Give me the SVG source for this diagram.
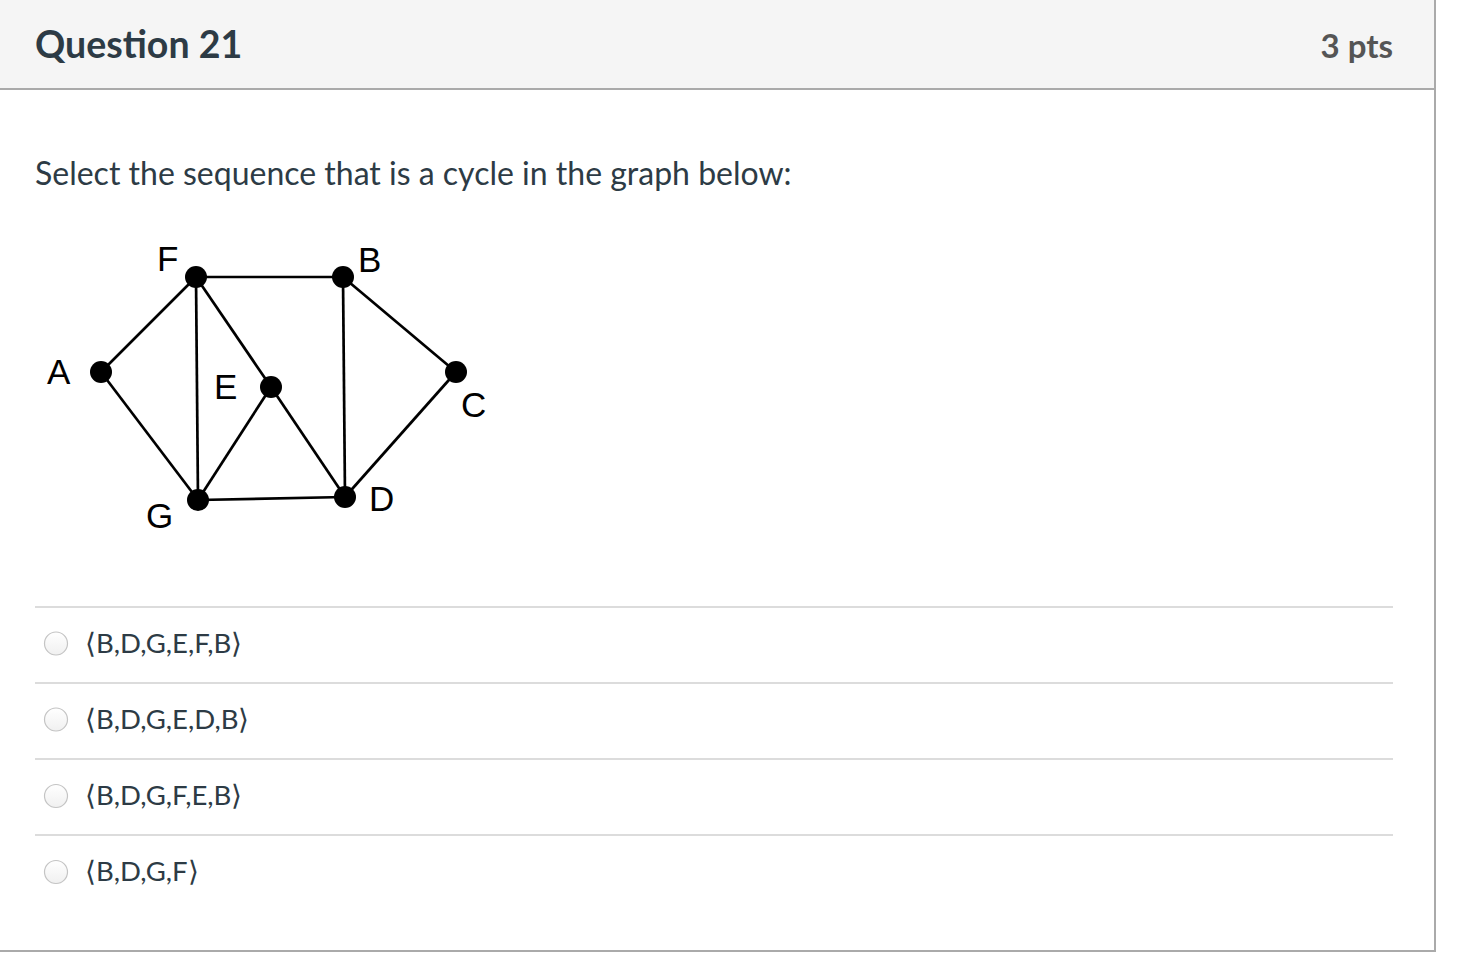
<svg xmlns="http://www.w3.org/2000/svg" width="1460" height="954" viewBox="0 0 1460 954">
<defs>
<style>
.hdr{font-family:Lato,"Liberation Sans",sans-serif;font-weight:bold;}
.body{font-family:Lato,"Liberation Sans",sans-serif;fill:#2d3b45;}
.lbl{font-family:"Liberation Sans",Arial,sans-serif;font-size:35px;fill:#000;}
.edge{stroke:#000;stroke-width:2.7;fill:none;}
.dot{fill:#000;}
.sep{stroke:#dcdcdc;stroke-width:2;}
.radio{fill:url(#rg);stroke:#c4c4c4;stroke-width:1.2;}
</style>
<linearGradient id="rg" x1="0" y1="0" x2="0" y2="1">
<stop offset="0" stop-color="#ffffff"/>
<stop offset="1" stop-color="#f0f0f0"/>
</linearGradient>
</defs>
<rect x="0" y="0" width="1460" height="954" fill="#ffffff"/>
<rect x="0" y="0" width="1435" height="89" fill="#f5f5f5"/>
<line x1="0" y1="89" x2="1435" y2="89" stroke="#aaaaaa" stroke-width="2"/>
<line x1="1435" y1="0" x2="1435" y2="951" stroke="#aaaaaa" stroke-width="2"/>
<line x1="0" y1="951" x2="1436" y2="951" stroke="#aaaaaa" stroke-width="2"/>
<text class="hdr" x="35" y="58" font-size="37.5" fill="#2d3b45">Question 21</text>
<text class="hdr" x="1393" y="58" font-size="33" fill="#555555" text-anchor="end">3 pts</text>
<text class="body" x="35" y="185" font-size="32">Select the sequence that is a cycle in the graph below:</text>
<g id="connectors">
<line class="edge" x1="196" y1="277" x2="343" y2="277"/>
<line class="edge" x1="196" y1="277" x2="101" y2="372"/>
<line class="edge" x1="196" y1="277" x2="198" y2="500"/>
<line class="edge" x1="196" y1="277" x2="271" y2="387"/>
<line class="edge" x1="101" y1="372" x2="198" y2="500"/>
<line class="edge" x1="271" y1="387" x2="198" y2="500"/>
<line class="edge" x1="271" y1="387" x2="345" y2="497"/>
<line class="edge" x1="343" y1="277" x2="345" y2="497"/>
<line class="edge" x1="343" y1="277" x2="456" y2="372"/>
<line class="edge" x1="456" y1="372" x2="345" y2="497"/>
<line class="edge" x1="198" y1="500" x2="345" y2="497"/>
</g>
<g id="node-F"><circle class="dot" cx="196" cy="277" r="11"/><text class="lbl" x="157" y="271">F</text></g>
<g id="node-B"><circle class="dot" cx="343" cy="277" r="11"/><text class="lbl" x="358" y="272">B</text></g>
<g id="node-A"><circle class="dot" cx="101" cy="372" r="11"/><text class="lbl" x="47" y="384">A</text></g>
<g id="node-E"><circle class="dot" cx="271" cy="387" r="11"/><text class="lbl" x="214" y="399">E</text></g>
<g id="node-C"><circle class="dot" cx="456" cy="372" r="11"/><text class="lbl" x="461" y="417">C</text></g>
<g id="node-G"><circle class="dot" cx="198" cy="500" r="11"/><text class="lbl" x="146" y="528">G</text></g>
<g id="node-D"><circle class="dot" cx="345" cy="497" r="11"/><text class="lbl" x="369" y="511">D</text></g>
<line class="sep" x1="35" y1="607" x2="1393" y2="607"/>
<line class="sep" x1="35" y1="683" x2="1393" y2="683"/>
<line class="sep" x1="35" y1="759" x2="1393" y2="759"/>
<line class="sep" x1="35" y1="835" x2="1393" y2="835"/>
<g id="option-1"><circle class="radio" cx="56" cy="643.5" r="11.5"/><text class="body" x="85" y="652.5" font-size="27.5">⟨B,D,G,E,F,B⟩</text></g>
<g id="option-2"><circle class="radio" cx="56" cy="719.5" r="11.5"/><text class="body" x="85" y="728.5" font-size="27.5">⟨B,D,G,E,D,B⟩</text></g>
<g id="option-3"><circle class="radio" cx="56" cy="796" r="11.5"/><text class="body" x="85" y="805" font-size="27.5">⟨B,D,G,F,E,B⟩</text></g>
<g id="option-4"><circle class="radio" cx="56" cy="872" r="11.5"/><text class="body" x="85" y="881" font-size="27.5">⟨B,D,G,F⟩</text></g>
</svg>
